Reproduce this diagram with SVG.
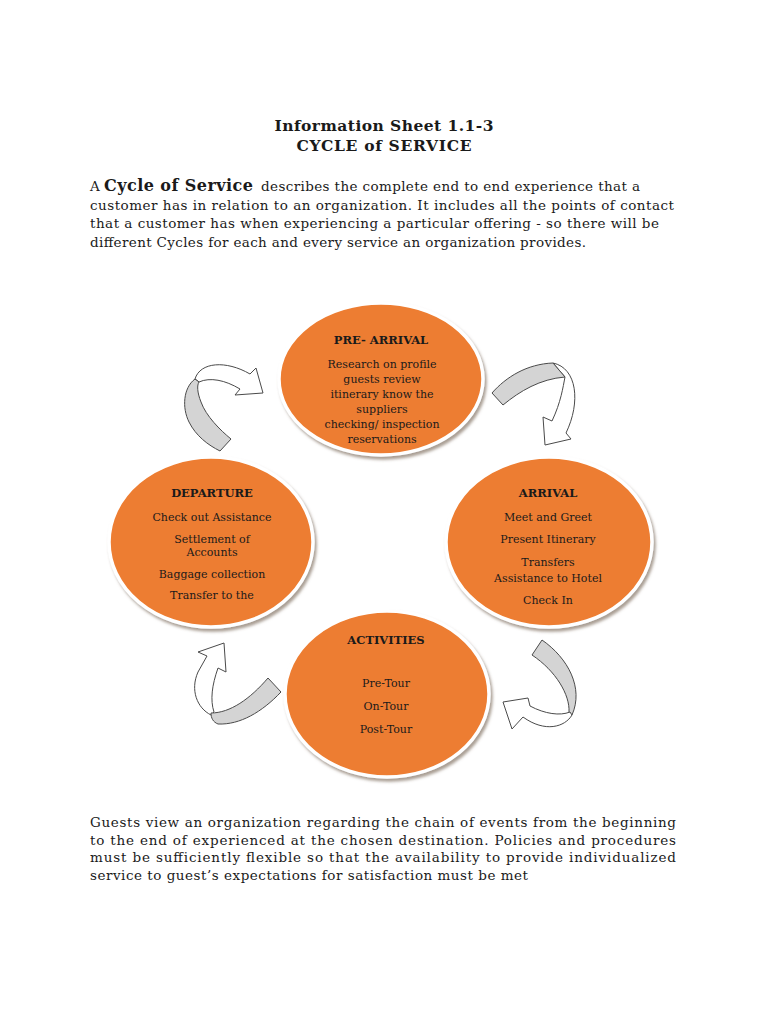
<svg xmlns="http://www.w3.org/2000/svg" width="768" height="1024" viewBox="0 0 768 1024">
<defs>
<filter id="sh" x="-10%" y="-10%" width="125%" height="125%">
<feDropShadow dx="2" dy="3" stdDeviation="1.5" flood-color="#7a6a5a" flood-opacity="0.65"/>
</filter>
<style>
.t{font-family:"DejaVu Serif","Liberation Serif",serif;fill:#1a1a1a}
.title{font-size:15.5px;font-weight:bold;text-anchor:middle}
.body{font-size:13.5px}
.hd{font-size:11.5px;font-weight:bold;text-anchor:middle}
.nt{font-size:11px;text-anchor:middle}
.node{fill:#ED7D31;stroke:#ffffff;stroke-width:3.5;filter:url(#sh)}
.ag{fill:#d4d4d4;stroke:#4a4a4a;stroke-width:1;stroke-linejoin:round}
.aw{fill:#ffffff;stroke:#4a4a4a;stroke-width:1;stroke-linejoin:round}
</style>
</defs>
<rect width="768" height="1024" fill="#ffffff"/>

<text class="t title" x="384" y="131" textLength="219">Information Sheet 1.1-3</text>
<text class="t title" x="384" y="151" textLength="175">CYCLE of SERVICE</text>

<text class="t body" x="90" y="191">A</text>
<text class="t" x="104" y="191" font-size="16" font-weight="bold" textLength="149">Cycle of Service</text>
<text class="t body" x="261" y="191" textLength="379">describes the complete end to end experience that a</text>
<text class="t body" x="90" y="210" textLength="584">customer has in relation to an organization. It includes all the points of contact</text>
<text class="t body" x="90" y="228" textLength="569">that a customer has when experiencing a particular offering - so there will be</text>
<text class="t body" x="90" y="247" textLength="496">different Cycles for each and every service an organization provides.</text>

<g id="connectors">
<g id="arrow-departure-prearrival">
<path class="aw" d="M195,379 C200,362 226,360 250,374 L256,368 L263,393 L235,395 L240,389 C225,380 210,377 199,382 Z"/>
<path class="ag" d="M195,379 C183,388 182,408 189,422 C196,436 208,445 220,451 L231,439 C220,430 206,416 201,402 C197,392 197,385 199,382 Z"/>
</g>
<g id="arrow-prearrival-arrival">
<path class="aw" d="M553,363 C577,368 581,402 566,433 L571,439 L545,445 L543,417 L552,421 C561,402 563,387 565,377 Z"/>
<path class="ag" d="M492,393 C506,377 527,364 553,363 L565,377 C540,379 520,391 503,405 Z"/>
</g>
<g id="arrow-arrival-activities">
<path class="ag" d="M542,640 C568,658 584,688 572,715 L569,712 C570,695 556,671 532,655 Z"/>
<path class="aw" d="M503,702 L528,698 L530,706 C545,714 560,716 570,712 L572,715 C565,727 545,733 523,717 L512,729 Z"/>
</g>
<g id="arrow-activities-departure">
<path class="aw" d="M207,656 L198,652 L224,643 L226,672 L218,668 C212,685 210,700 214,712 L211,715 C197,708 190,690 198,672 Z"/>
<path class="ag" d="M211,713 C230,713 250,699 268,678 L281,692 C262,712 240,725 218,724 C213,722 211,718 211,713 Z"/>
</g>
</g>

<g id="node-prearrival">
<ellipse class="node" cx="381" cy="379" rx="102" ry="76"/>
<text class="t hd" x="381" y="344">PRE- ARRIVAL</text>
<text class="t nt" x="382" y="368">Research on profile</text>
<text class="t nt" x="382" y="383">guests review</text>
<text class="t nt" x="382" y="398">itinerary know the</text>
<text class="t nt" x="382" y="413">suppliers</text>
<text class="t nt" x="382" y="428">checking/ inspection</text>
<text class="t nt" x="382" y="443">reservations</text>
</g>

<g id="node-departure">
<ellipse class="node" cx="211" cy="542" rx="102" ry="85"/>
<text class="t hd" x="212" y="497">DEPARTURE</text>
<text class="t nt" x="212" y="521">Check out Assistance</text>
<text class="t nt" x="212" y="543">Settlement of</text>
<text class="t nt" x="212" y="556">Accounts</text>
<text class="t nt" x="212" y="578">Baggage collection</text>
<text class="t nt" x="212" y="599">Transfer to the</text>
</g>

<g id="node-arrival">
<ellipse class="node" cx="549" cy="542" rx="103" ry="85"/>
<text class="t hd" x="548" y="497">ARRIVAL</text>
<text class="t nt" x="548" y="521">Meet and Greet</text>
<text class="t nt" x="548" y="543">Present Itinerary</text>
<text class="t nt" x="548" y="566">Transfers</text>
<text class="t nt" x="548" y="582">Assistance to Hotel</text>
<text class="t nt" x="548" y="604">Check In</text>
</g>

<g id="node-activities">
<ellipse class="node" cx="387" cy="694" rx="102" ry="83"/>
<text class="t hd" x="386" y="644">ACTIVITIES</text>
<text class="t nt" x="386" y="687">Pre-Tour</text>
<text class="t nt" x="386" y="710">On-Tour</text>
<text class="t nt" x="386" y="733">Post-Tour</text>
</g>

<text class="t body" x="90" y="827" textLength="586">Guests view an organization regarding the chain of events from the beginning</text>
<text class="t body" x="90" y="845" textLength="586">to the end of experienced at the chosen destination. Policies and procedures</text>
<text class="t body" x="90" y="862" textLength="586">must be sufficiently flexible so that the availability to provide individualized</text>
<text class="t body" x="90" y="880" textLength="438">service to guest’s expectations for satisfaction must be met</text>
</svg>
